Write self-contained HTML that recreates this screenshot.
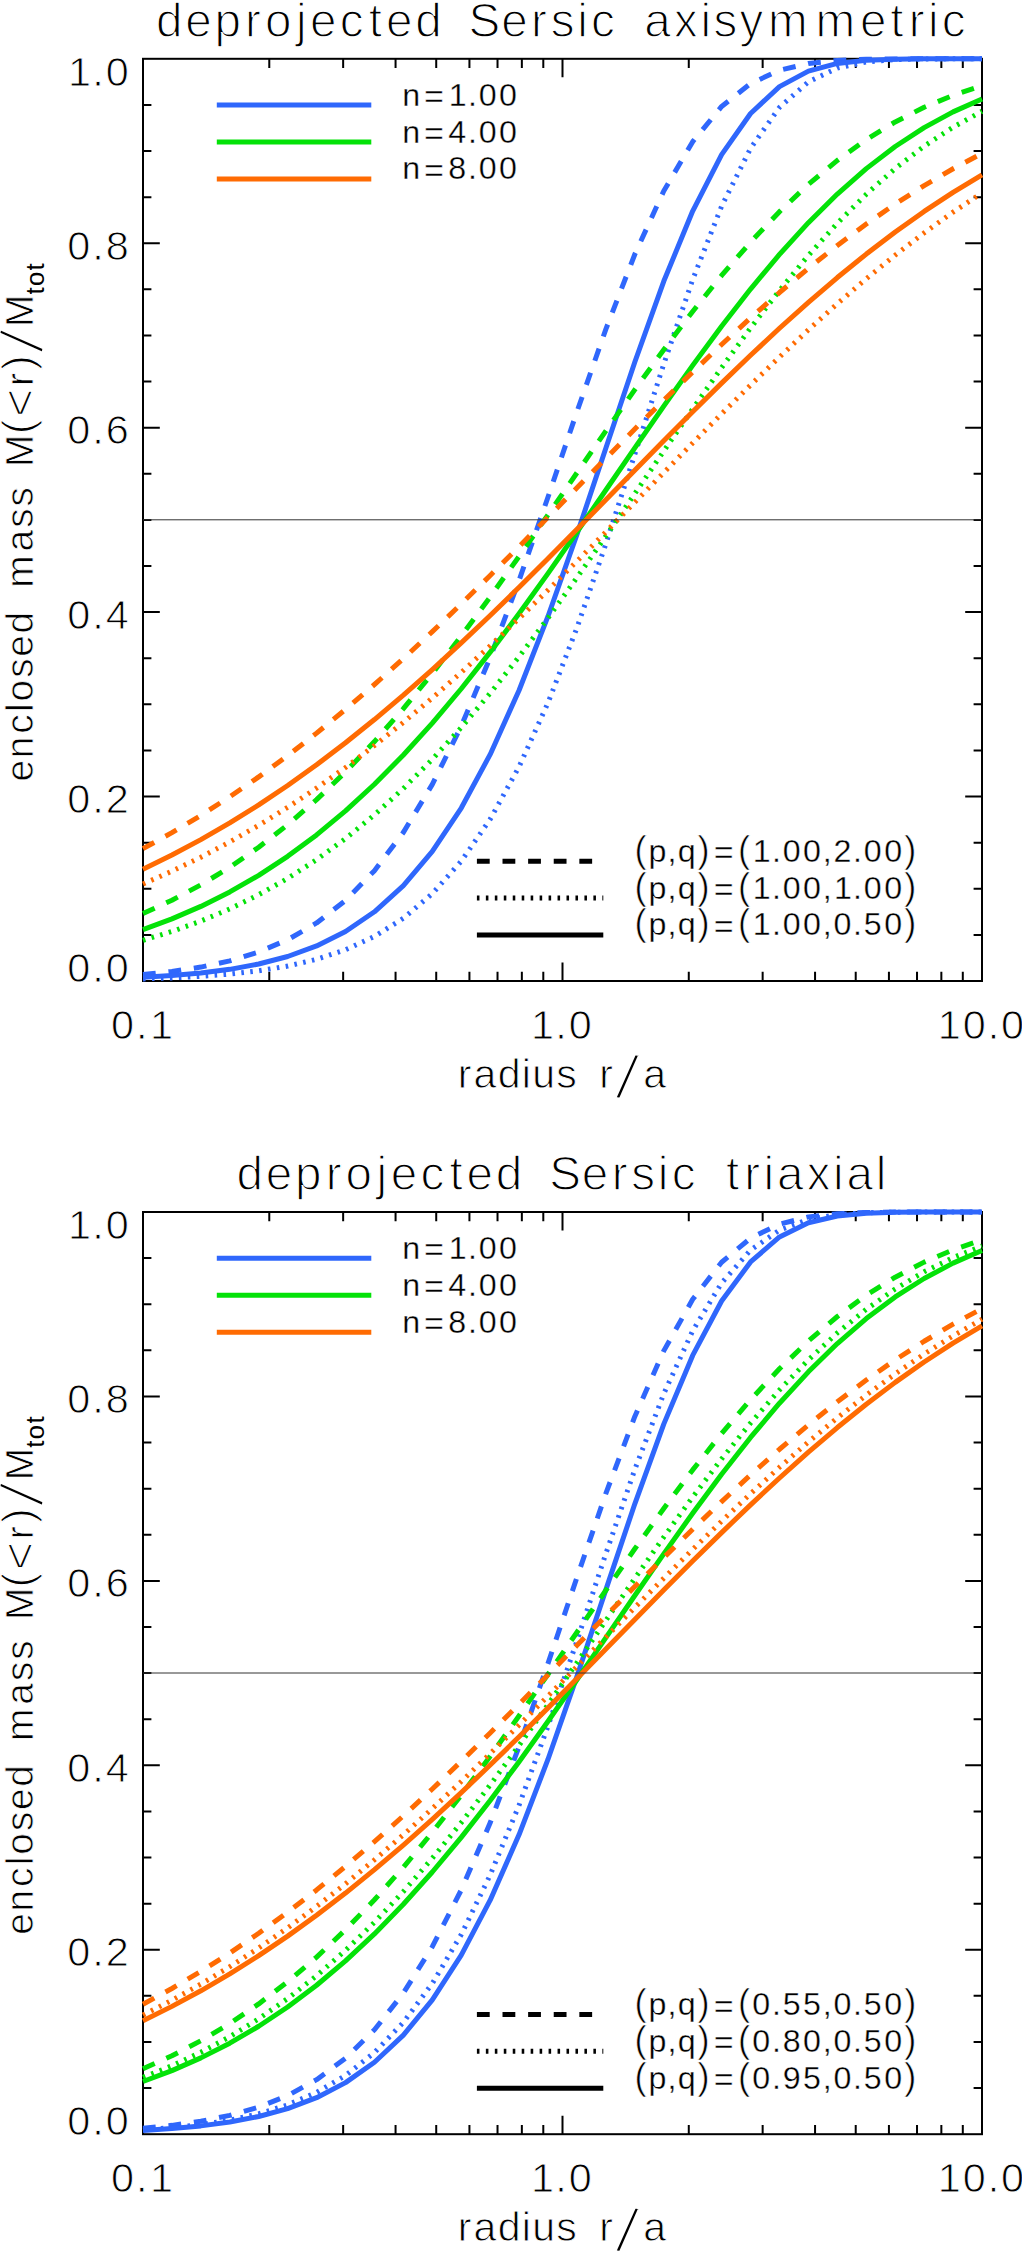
<!DOCTYPE html>
<html lang="en">
<head>
<meta charset="utf-8">
<title>deprojected Sersic enclosed mass</title>
<style>
html,body{margin:0;padding:0;background:#fff;}
body{width:1022px;height:2251px;overflow:hidden;}
svg{display:block;}
.ax{fill:none;stroke:#000;stroke-width:2;stroke-linecap:butt;stroke-linejoin:miter;}
.cv path,.so,.da,.do{fill:none;stroke-width:5.0;stroke-linejoin:round;stroke-linecap:butt;}
.da{stroke-dasharray:12.8 12.81;}
.do{stroke-dasharray:2.56 6.4;}
.lk{stroke:#000;stroke-width:5;}
.half{fill:none;stroke:#333;stroke-width:1;}
.txt text{font-family:"Liberation Sans",Arial,Helvetica,sans-serif;fill:#000;stroke:#fff;text-anchor:middle;}
</style>
</head>
<body>
<svg width="1022" height="2251" viewBox="0 0 1022 2251">
<rect width="1022" height="2251" fill="#fff"/>
<g class="panel">
<path class="ax" d="M269.28,981.0v-9.2M269.28,58.8v9.2M343.15,981.0v-9.2M343.15,58.8v9.2M395.56,981.0v-9.2M395.56,58.8v9.2M436.22,981.0v-9.2M436.22,58.8v9.2M469.43,981.0v-9.2M469.43,58.8v9.2M497.52,981.0v-9.2M497.52,58.8v9.2M521.85,981.0v-9.2M521.85,58.8v9.2M543.30,981.0v-9.2M543.30,58.8v9.2M562.50,981.0v-18.4M562.50,58.8v18.4M688.78,981.0v-9.2M688.78,58.8v9.2M762.65,981.0v-9.2M762.65,58.8v9.2M815.06,981.0v-9.2M815.06,58.8v9.2M855.72,981.0v-9.2M855.72,58.8v9.2M888.93,981.0v-9.2M888.93,58.8v9.2M917.02,981.0v-9.2M917.02,58.8v9.2M941.35,981.0v-9.2M941.35,58.8v9.2M962.80,981.0v-9.2M962.80,58.8v9.2M143.0,934.89h8.4M982.0,934.89h-8.4M143.0,888.78h8.4M982.0,888.78h-8.4M143.0,842.67h8.4M982.0,842.67h-8.4M143.0,796.56h16.8M982.0,796.56h-16.8M143.0,750.45h8.4M982.0,750.45h-8.4M143.0,704.34h8.4M982.0,704.34h-8.4M143.0,658.23h8.4M982.0,658.23h-8.4M143.0,612.12h16.8M982.0,612.12h-16.8M143.0,566.01h8.4M982.0,566.01h-8.4M143.0,519.90h8.4M982.0,519.90h-8.4M143.0,473.79h8.4M982.0,473.79h-8.4M143.0,427.68h16.8M982.0,427.68h-16.8M143.0,381.57h8.4M982.0,381.57h-8.4M143.0,335.46h8.4M982.0,335.46h-8.4M143.0,289.35h8.4M982.0,289.35h-8.4M143.0,243.24h16.8M982.0,243.24h-16.8M143.0,197.13h8.4M982.0,197.13h-8.4M143.0,151.02h8.4M982.0,151.02h-8.4M143.0,104.91h8.4M982.0,104.91h-8.4"/>
<rect class="ax" x="143.0" y="58.8" width="839.0" height="922.2"/>
<g class="cv">
<path class="da" stroke="#2f67fc" d="M143.00,974.54 L171.93,971.49 L200.86,967.09 L229.79,960.83 L258.72,952.00 L287.66,939.74 L316.59,922.96 L345.52,900.39 L374.45,870.66 L403.38,832.38 L432.31,784.40 L461.24,726.07 L490.17,657.59 L519.10,580.33 L548.03,497.01 L576.97,411.66 L605.90,329.10 L634.83,254.23 L663.76,191.01 L692.69,141.70 L721.62,106.46 L750.55,83.59 L779.48,70.29 L808.41,63.45 L837.34,60.41 L866.28,59.26 L895.21,58.91 L924.14,58.82 L953.07,58.80 L982.00,58.80"/>
<path class="do" stroke="#2f67fc" d="M143.00,978.92 L171.93,977.88 L200.86,976.35 L229.79,974.10 L258.72,970.82 L287.66,966.09 L316.59,959.33 L345.52,949.79 L374.45,936.50 L403.38,918.26 L432.31,893.67 L461.24,861.17 L490.17,819.26 L519.10,766.66 L548.03,702.72 L576.97,627.83 L605.90,543.83 L634.83,454.24 L663.76,364.13 L692.69,279.54 L721.62,206.23 L750.55,148.35 L779.48,107.38 L808.41,81.85 L837.34,68.12 L866.28,61.93 L895.21,59.64 L924.14,58.97 L953.07,58.83 L982.00,58.80"/>
<path class="so" stroke="#2f67fc" d="M143.00,977.37 L171.93,975.61 L200.86,973.05 L229.79,969.34 L258.72,964.02 L287.66,956.50 L316.59,945.97 L345.52,931.46 L374.45,911.78 L403.38,885.57 L432.31,851.44 L461.24,808.05 L490.17,754.42 L519.10,690.24 L548.03,616.21 L576.97,534.34 L605.90,448.05 L634.83,361.97 L663.76,281.32 L692.69,211.03 L721.62,154.62 L750.55,113.47 L779.48,86.58 L808.41,71.11 L837.34,63.45 L866.28,60.25 L895.21,59.16 L924.14,58.87 L953.07,58.81 L982.00,58.80"/>
<path class="da" stroke="#04e208" d="M143.00,913.55 L171.93,900.23 L200.86,884.85 L229.79,867.24 L258.72,847.25 L287.66,824.75 L316.59,799.65 L345.52,771.92 L374.45,741.57 L403.38,708.69 L432.31,673.45 L461.24,636.08 L490.17,596.91 L519.10,556.32 L548.03,514.77 L576.97,472.78 L605.90,430.90 L634.83,389.68 L663.76,349.69 L692.69,311.46 L721.62,275.46 L750.55,242.09 L779.48,211.67 L808.41,184.39 L837.34,160.36 L866.28,139.58 L895.21,121.94 L924.14,107.26 L953.07,95.30 L982.00,85.74"/>
<path class="do" stroke="#04e208" d="M143.00,940.33 L171.93,931.49 L200.86,921.07 L229.79,908.88 L258.72,894.71 L287.66,878.38 L316.59,859.72 L345.52,838.58 L374.45,814.84 L403.38,788.42 L432.31,759.30 L461.24,727.53 L490.17,693.24 L519.10,656.62 L548.03,617.95 L576.97,577.59 L605.90,535.97 L634.83,493.61 L663.76,451.05 L692.69,408.88 L721.62,367.67 L750.55,328.01 L779.48,290.42 L808.41,255.35 L837.34,223.18 L866.28,194.18 L895.21,168.51 L924.14,146.20 L953.07,127.18 L982.00,111.31"/>
<path class="so" stroke="#04e208" d="M143.00,929.57 L171.93,918.88 L200.86,906.39 L229.79,891.93 L258.72,875.31 L287.66,856.35 L316.59,834.93 L345.52,810.92 L374.45,784.28 L403.38,754.99 L432.31,723.11 L461.24,688.76 L490.17,652.16 L519.10,613.58 L548.03,573.40 L576.97,532.05 L605.90,490.01 L634.83,447.84 L663.76,406.10 L692.69,365.37 L721.62,326.18 L750.55,289.06 L779.48,254.44 L808.41,222.67 L837.34,194.02 L866.28,168.62 L895.21,146.52 L924.14,127.66 L953.07,111.86 L982.00,98.91"/>
<path class="da" stroke="#ff6b02" d="M143.00,848.62 L171.93,832.67 L200.86,815.40 L229.79,796.81 L258.72,776.89 L287.66,755.66 L316.59,733.15 L345.52,709.41 L374.45,684.52 L403.38,658.56 L432.31,631.64 L461.24,603.90 L490.17,575.47 L519.10,546.52 L548.03,517.21 L576.97,487.74 L605.90,458.28 L634.83,429.04 L663.76,400.20 L692.69,371.96 L721.62,344.48 L750.55,317.95 L779.48,292.51 L808.41,268.29 L837.34,245.42 L866.28,223.97 L895.21,204.01 L924.14,185.60 L953.07,168.74 L982.00,153.44"/>
<path class="do" stroke="#ff6b02" d="M143.00,883.96 L171.93,871.19 L200.86,857.18 L229.79,841.90 L258.72,825.31 L287.66,807.38 L316.59,788.10 L345.52,767.49 L374.45,745.56 L403.38,722.36 L432.31,697.95 L461.24,672.40 L490.17,645.82 L519.10,618.34 L548.03,590.08 L576.97,561.20 L605.90,531.87 L634.83,502.28 L663.76,472.60 L692.69,443.04 L721.62,413.80 L750.55,385.06 L779.48,357.02 L808.41,329.85 L837.34,303.71 L866.28,278.75 L895.21,255.11 L924.14,232.87 L953.07,212.12 L982.00,192.92"/>
<path class="so" stroke="#ff6b02" d="M143.00,869.21 L171.93,855.08 L200.86,839.66 L229.79,822.95 L258.72,804.90 L287.66,785.52 L316.59,764.81 L345.52,742.81 L374.45,719.54 L403.38,695.09 L432.31,669.52 L461.24,642.95 L490.17,615.49 L519.10,587.27 L548.03,558.46 L576.97,529.22 L605.90,499.74 L634.83,470.19 L663.76,440.78 L692.69,411.70 L721.62,383.13 L750.55,355.26 L779.48,328.28 L808.41,302.32 L837.34,277.55 L866.28,254.08 L895.21,232.01 L924.14,211.42 L953.07,192.37 L982.00,174.87"/>
</g>
<path class="half" d="M143.0,519.80H982.0"/>
<path class="so" stroke="#2f67fc" d="M216.8,105.0H371.3"/>
<path class="so" stroke="#04e208" d="M216.8,142.0H371.3"/>
<path class="so" stroke="#ff6b02" d="M216.8,179.0H371.3"/>
<path class="da lk" d="M476.9,861.2H603.3"/>
<path class="do lk" d="M476.9,898.0H603.3"/>
<path class="so lk" d="M476.9,935.0H603.3"/>
</g>
<g class="panel">
<path class="ax" d="M269.28,2134.2v-9.2M269.28,1212.0v9.2M343.15,2134.2v-9.2M343.15,1212.0v9.2M395.56,2134.2v-9.2M395.56,1212.0v9.2M436.22,2134.2v-9.2M436.22,1212.0v9.2M469.43,2134.2v-9.2M469.43,1212.0v9.2M497.52,2134.2v-9.2M497.52,1212.0v9.2M521.85,2134.2v-9.2M521.85,1212.0v9.2M543.30,2134.2v-9.2M543.30,1212.0v9.2M562.50,2134.2v-18.4M562.50,1212.0v18.4M688.78,2134.2v-9.2M688.78,1212.0v9.2M762.65,2134.2v-9.2M762.65,1212.0v9.2M815.06,2134.2v-9.2M815.06,1212.0v9.2M855.72,2134.2v-9.2M855.72,1212.0v9.2M888.93,2134.2v-9.2M888.93,1212.0v9.2M917.02,2134.2v-9.2M917.02,1212.0v9.2M941.35,2134.2v-9.2M941.35,1212.0v9.2M962.80,2134.2v-9.2M962.80,1212.0v9.2M143.0,2088.09h8.4M982.0,2088.09h-8.4M143.0,2041.98h8.4M982.0,2041.98h-8.4M143.0,1995.87h8.4M982.0,1995.87h-8.4M143.0,1949.76h16.8M982.0,1949.76h-16.8M143.0,1903.65h8.4M982.0,1903.65h-8.4M143.0,1857.54h8.4M982.0,1857.54h-8.4M143.0,1811.43h8.4M982.0,1811.43h-8.4M143.0,1765.32h16.8M982.0,1765.32h-16.8M143.0,1719.21h8.4M982.0,1719.21h-8.4M143.0,1673.10h8.4M982.0,1673.10h-8.4M143.0,1626.99h8.4M982.0,1626.99h-8.4M143.0,1580.88h16.8M982.0,1580.88h-16.8M143.0,1534.77h8.4M982.0,1534.77h-8.4M143.0,1488.66h8.4M982.0,1488.66h-8.4M143.0,1442.55h8.4M982.0,1442.55h-8.4M143.0,1396.44h16.8M982.0,1396.44h-16.8M143.0,1350.33h8.4M982.0,1350.33h-8.4M143.0,1304.22h8.4M982.0,1304.22h-8.4M143.0,1258.11h8.4M982.0,1258.11h-8.4"/>
<rect class="ax" x="143.0" y="1212.0" width="839.0" height="922.1999999999998"/>
<g class="cv">
<path class="da" stroke="#2f67fc" d="M143.00,2128.20 L171.93,2125.36 L200.86,2121.25 L229.79,2115.38 L258.72,2107.09 L287.66,2095.53 L316.59,2079.65 L345.52,2058.21 L374.45,2029.81 L403.38,1993.06 L432.31,1946.71 L461.24,1889.97 L490.17,1822.84 L519.10,1746.45 L548.03,1663.33 L576.97,1577.34 L605.90,1493.34 L634.83,1416.41 L663.76,1350.85 L692.69,1299.32 L721.62,1262.26 L750.55,1238.15 L779.48,1224.10 L808.41,1216.89 L837.34,1213.69 L866.28,1212.48 L895.21,1212.11 L924.14,1212.02 L953.07,1212.00 L982.00,1212.00"/>
<path class="do" stroke="#2f67fc" d="M143.00,2129.80 L171.93,2127.68 L200.86,2124.59 L229.79,2120.15 L258.72,2113.81 L287.66,2104.88 L316.59,2092.46 L345.52,2075.45 L374.45,2052.56 L403.38,2022.36 L432.31,1983.43 L461.24,1934.57 L490.17,1875.07 L519.10,1805.11 L548.03,1726.08 L576.97,1640.82 L605.90,1553.55 L634.83,1469.44 L663.76,1393.76 L692.69,1330.81 L721.62,1282.95 L750.55,1250.12 L779.48,1230.11 L808.41,1219.45 L837.34,1214.59 L866.28,1212.74 L895.21,1212.17 L924.14,1212.03 L953.07,1212.00 L982.00,1212.00"/>
<path class="so" stroke="#2f67fc" d="M143.00,2130.41 L171.93,2128.57 L200.86,2125.89 L229.79,2122.02 L258.72,2116.48 L287.66,2108.64 L316.59,2097.70 L345.52,2082.63 L374.45,2062.22 L403.38,2035.11 L432.31,1999.87 L461.24,1955.19 L490.17,1900.16 L519.10,1834.55 L548.03,1759.22 L576.97,1676.37 L605.90,1589.63 L634.83,1503.78 L663.76,1424.10 L692.69,1355.43 L721.62,1301.04 L750.55,1261.97 L779.48,1236.91 L808.41,1222.80 L837.34,1215.97 L866.28,1213.20 L895.21,1212.29 L924.14,1212.05 L953.07,1212.01 L982.00,1212.00"/>
<path class="da" stroke="#04e208" d="M143.00,2068.79 L171.93,2055.78 L200.86,2040.75 L229.79,2023.50 L258.72,2003.89 L287.66,1981.78 L316.59,1957.08 L345.52,1929.73 L374.45,1899.76 L403.38,1867.23 L432.31,1832.30 L461.24,1795.19 L490.17,1756.22 L519.10,1715.75 L548.03,1674.26 L576.97,1632.23 L605.90,1590.22 L634.83,1548.80 L663.76,1508.52 L692.69,1469.93 L721.62,1433.52 L750.55,1399.70 L779.48,1368.79 L808.41,1341.01 L837.34,1316.50 L866.28,1295.25 L895.21,1277.18 L924.14,1262.11 L953.07,1249.79 L982.00,1239.94"/>
<path class="do" stroke="#04e208" d="M143.00,2077.39 L171.93,2065.77 L200.86,2052.26 L229.79,2036.67 L258.72,2018.82 L287.66,1998.55 L316.59,1975.75 L345.52,1950.33 L374.45,1922.25 L403.38,1891.53 L432.31,1858.28 L461.24,1822.66 L490.17,1784.92 L519.10,1745.39 L548.03,1704.48 L576.97,1662.65 L605.90,1620.43 L634.83,1578.37 L663.76,1537.06 L692.69,1497.06 L721.62,1458.90 L750.55,1423.05 L779.48,1389.92 L808.41,1359.81 L837.34,1332.90 L866.28,1309.30 L895.21,1288.97 L924.14,1271.81 L953.07,1257.60 L982.00,1246.09"/>
<path class="so" stroke="#04e208" d="M143.00,2081.52 L171.93,2070.61 L200.86,2057.89 L229.79,2043.16 L258.72,2026.24 L287.66,2006.97 L316.59,1985.22 L345.52,1960.87 L374.45,1933.88 L403.38,1904.24 L432.31,1872.02 L461.24,1837.35 L490.17,1800.46 L519.10,1761.64 L548.03,1721.26 L576.97,1679.77 L605.90,1637.66 L634.83,1595.50 L663.76,1553.84 L692.69,1513.25 L721.62,1474.30 L750.55,1437.47 L779.48,1403.19 L808.41,1371.82 L837.34,1343.58 L866.28,1318.62 L895.21,1296.96 L924.14,1278.51 L953.07,1263.12 L982.00,1250.53"/>
<path class="da" stroke="#ff6b02" d="M143.00,2004.23 L171.93,1988.48 L200.86,1971.42 L229.79,1953.02 L258.72,1933.30 L287.66,1912.26 L316.59,1889.93 L345.52,1866.36 L374.45,1841.62 L403.38,1815.80 L432.31,1789.00 L461.24,1761.35 L490.17,1733.00 L519.10,1704.09 L548.03,1674.80 L576.97,1645.32 L605.90,1615.82 L634.83,1586.51 L663.76,1557.58 L692.69,1529.21 L721.62,1501.59 L750.55,1474.89 L779.48,1449.26 L808.41,1424.84 L837.34,1401.74 L866.28,1380.07 L895.21,1359.88 L924.14,1341.24 L953.07,1324.15 L982.00,1308.62"/>
<path class="do" stroke="#ff6b02" d="M143.00,2015.07 L171.93,2000.25 L200.86,1984.14 L229.79,1966.71 L258.72,1947.94 L287.66,1927.85 L316.59,1906.43 L345.52,1883.74 L374.45,1859.81 L403.38,1834.74 L432.31,1808.61 L461.24,1781.53 L490.17,1753.63 L519.10,1725.06 L548.03,1695.98 L576.97,1666.57 L605.90,1637.02 L634.83,1607.50 L663.76,1578.23 L692.69,1549.39 L721.62,1521.16 L750.55,1493.74 L779.48,1467.28 L808.41,1441.94 L837.34,1417.85 L866.28,1395.12 L895.21,1373.83 L924.14,1354.06 L953.07,1335.85 L982.00,1319.20"/>
<path class="so" stroke="#ff6b02" d="M143.00,2020.67 L171.93,2006.37 L200.86,1990.79 L229.79,1973.90 L258.72,1955.68 L287.66,1936.12 L316.59,1915.24 L345.52,1893.07 L374.45,1869.64 L403.38,1845.03 L432.31,1819.32 L461.24,1792.62 L490.17,1765.04 L519.10,1736.74 L548.03,1707.86 L576.97,1678.57 L605.90,1649.06 L634.83,1619.51 L663.76,1590.12 L692.69,1561.09 L721.62,1532.60 L750.55,1504.83 L779.48,1477.97 L808.41,1452.16 L837.34,1427.55 L866.28,1404.25 L895.21,1382.37 L924.14,1361.98 L953.07,1343.13 L982.00,1325.84"/>
</g>
<path class="half" d="M143.0,1673.00H982.0"/>
<path class="so" stroke="#2f67fc" d="M216.8,1258.2H371.3"/>
<path class="so" stroke="#04e208" d="M216.8,1295.2H371.3"/>
<path class="so" stroke="#ff6b02" d="M216.8,1332.2H371.3"/>
<path class="da lk" d="M476.9,2014.4H603.3"/>
<path class="do lk" d="M476.9,2051.2H603.3"/>
<path class="so lk" d="M476.9,2088.2H603.3"/>
</g>
<g class="txt">
<text x="169.26 198.49 227.72 253 278.28 301.19 323.31 351.75 375.45 399.15 428.38 456.03 484.47 514.49 538.98 562.68 582.43 602.97 629.83 657.48 685.92 705.67 725.42 751.49 787.83 835.23 873.15 896.85 916.6 933.19 953.73" y="37 37 37 37 37 37 37 37 37 37 37 37 37 37 37 37 37 37 37 37 37 37 37 37 37 37 37 37 37 37 37" font-size="47.6" stroke-width="1.34">deprojected Sersic axisymmetric</text>
<text x="78.8 98 117.2" y="981.9 981.9 981.9" font-size="41.4" stroke-width="0.93">0.0</text>
<text x="78.8 98 117.2" y="812.96 812.96 812.96" font-size="41.4" stroke-width="0.93">0.2</text>
<text x="78.8 98 117.2" y="628.52 628.52 628.52" font-size="41.4" stroke-width="0.93">0.4</text>
<text x="78.8 98 117.2" y="444.08 444.08 444.08" font-size="41.4" stroke-width="0.93">0.6</text>
<text x="78.8 98 117.2" y="259.64 259.64 259.64" font-size="41.4" stroke-width="0.93">0.8</text>
<text x="79.44 98 117.2" y="86.2 86.2 86.2" font-size="41.4" stroke-width="0.93">1.0</text>
<text x="122.5 141.7 161.54" y="1038.8 1038.8 1038.8" font-size="41.4" stroke-width="0.93">0.1</text>
<text x="542.44 561 580.2" y="1038.8 1038.8 1038.8" font-size="41.4" stroke-width="0.93">1.0</text>
<text x="949.24 974.2 993.4 1012.6" y="1038.8 1038.8 1038.8 1038.8" font-size="41.4" stroke-width="0.93">10.0</text>
<text x="464.49 484.91 509.15 526.38 543.61 566.57 587.63 606.13 624.03 654.62" y="1087.7 1087.7 1087.7 1087.7 1087.7 1087.7 1087.7 1087.7 1097.47 1087.7" font-size="41" stroke-width="0.91">radius r<tspan font-size="63.45" stroke-width="2.39" rotate="8.7">/</tspan>a</text>
<g transform="translate(32.6,782.1) rotate(-90)"><text x="11.34 34.65 57.96 74.34 91.35 114.03 136.08 159.39 181.44 210.42 241.29 263.97 285.39 306.18 331.38 355.32 379.26 402.57 419.58 437.87 471.24 491.05 503.16 515.26" y="0 0 0 0 0 0 0 0 0 0 0 0 0 0 0 0 3.2 0 0 9.67 0 11 11 11" font-size="38.8" stroke-width="0.76">enclosed mass M<tspan font-size="44.32" stroke-width="1.13">(</tspan><tspan font-size="47.98" stroke-width="1.37">&lt;</tspan>r<tspan font-size="44.32" stroke-width="1.13">)</tspan><tspan font-size="62.73" stroke-width="2.34" rotate="8.7">/</tspan>M<tspan font-size="25.56" stroke-width="0">tot</tspan></text></g>
<text x="411.13 433.95 457.78 472.48 487.69 507.97" y="105.8 108.07 105.8 105.8 105.8 105.8" font-size="32.2" stroke-width="0.33">n<tspan font-size="34.13" stroke-width="0.45">=</tspan>1.00</text>
<text x="411.13 433.95 457.27 472.48 487.69 507.97" y="142.6 144.87 142.6 142.6 142.6 142.6" font-size="32.2" stroke-width="0.33">n<tspan font-size="34.13" stroke-width="0.45">=</tspan>4.00</text>
<text x="411.13 433.95 457.27 472.48 487.69 507.97" y="179.4 181.67 179.4 179.4 179.4 179.4" font-size="32.2" stroke-width="0.33">n<tspan font-size="34.13" stroke-width="0.45">=</tspan>8.00</text>
<text x="640.6 657.33 672.03 686.74 703.47 723.75 744.03 761.77 776.47 791.68 811.96 827.17 842.38 857.59 872.8 893.08 910.32" y="862.2 862.2 862.2 862.2 862.2 864.47 862.2 862.2 862.2 862.2 862.2 862.2 862.2 862.2 862.2 862.2 862.2" font-size="32.2" stroke-width="0.33"><tspan font-size="36.21" stroke-width="0.59">(</tspan>p,q<tspan font-size="36.21" stroke-width="0.59">)</tspan><tspan font-size="34.13" stroke-width="0.45">=</tspan><tspan font-size="36.21" stroke-width="0.59">(</tspan>1.00,2.00<tspan font-size="36.21" stroke-width="0.59">)</tspan></text>
<text x="640.6 657.33 672.03 686.74 703.47 723.75 744.03 761.77 776.47 791.68 811.96 827.17 842.89 857.59 872.8 893.08 910.32" y="898.8 898.8 898.8 898.8 898.8 901.07 898.8 898.8 898.8 898.8 898.8 898.8 898.8 898.8 898.8 898.8 898.8" font-size="32.2" stroke-width="0.33"><tspan font-size="36.21" stroke-width="0.59">(</tspan>p,q<tspan font-size="36.21" stroke-width="0.59">)</tspan><tspan font-size="34.13" stroke-width="0.45">=</tspan><tspan font-size="36.21" stroke-width="0.59">(</tspan>1.00,1.00<tspan font-size="36.21" stroke-width="0.59">)</tspan></text>
<text x="640.6 657.33 672.03 686.74 703.47 723.75 744.03 761.77 776.47 791.68 811.96 827.17 842.38 857.59 872.8 893.08 910.32" y="935.4 935.4 935.4 935.4 935.4 937.67 935.4 935.4 935.4 935.4 935.4 935.4 935.4 935.4 935.4 935.4 935.4" font-size="32.2" stroke-width="0.33"><tspan font-size="36.21" stroke-width="0.59">(</tspan>p,q<tspan font-size="36.21" stroke-width="0.59">)</tspan><tspan font-size="34.13" stroke-width="0.45">=</tspan><tspan font-size="36.21" stroke-width="0.59">(</tspan>1.00,0.50<tspan font-size="36.21" stroke-width="0.59">)</tspan></text>
<text x="249.84 279.07 308.3 333.58 358.86 381.77 403.89 432.33 456.03 479.73 508.96 536.61 565.05 595.07 619.56 643.26 663.01 683.55 710.41 732.53 752.28 768.87 790.2 818.64 838.39 859.72 881.05" y="1190.2 1190.2 1190.2 1190.2 1190.2 1190.2 1190.2 1190.2 1190.2 1190.2 1190.2 1190.2 1190.2 1190.2 1190.2 1190.2 1190.2 1190.2 1190.2 1190.2 1190.2 1190.2 1190.2 1190.2 1190.2 1190.2 1190.2" font-size="47.6" stroke-width="1.34">deprojected Sersic triaxial</text>
<text x="78.8 98 117.2" y="2135.1 2135.1 2135.1" font-size="41.4" stroke-width="0.93">0.0</text>
<text x="78.8 98 117.2" y="1966.16 1966.16 1966.16" font-size="41.4" stroke-width="0.93">0.2</text>
<text x="78.8 98 117.2" y="1781.72 1781.72 1781.72" font-size="41.4" stroke-width="0.93">0.4</text>
<text x="78.8 98 117.2" y="1597.28 1597.28 1597.28" font-size="41.4" stroke-width="0.93">0.6</text>
<text x="78.8 98 117.2" y="1412.84 1412.84 1412.84" font-size="41.4" stroke-width="0.93">0.8</text>
<text x="79.44 98 117.2" y="1239.4 1239.4 1239.4" font-size="41.4" stroke-width="0.93">1.0</text>
<text x="122.5 141.7 161.54" y="2192 2192 2192" font-size="41.4" stroke-width="0.93">0.1</text>
<text x="542.44 561 580.2" y="2192 2192 2192" font-size="41.4" stroke-width="0.93">1.0</text>
<text x="949.24 974.2 993.4 1012.6" y="2192 2192 2192 2192" font-size="41.4" stroke-width="0.93">10.0</text>
<text x="464.49 484.91 509.15 526.38 543.61 566.57 587.63 606.13 624.03 654.62" y="2240.9 2240.9 2240.9 2240.9 2240.9 2240.9 2240.9 2240.9 2250.67 2240.9" font-size="41" stroke-width="0.91">radius r<tspan font-size="63.45" stroke-width="2.39" rotate="8.7">/</tspan>a</text>
<g transform="translate(32.6,1935.3) rotate(-90)"><text x="11.34 34.65 57.96 74.34 91.35 114.03 136.08 159.39 181.44 210.42 241.29 263.97 285.39 306.18 331.38 355.32 379.26 402.57 419.58 437.87 471.24 491.05 503.16 515.26" y="0 0 0 0 0 0 0 0 0 0 0 0 0 0 0 0 3.2 0 0 9.67 0 11 11 11" font-size="38.8" stroke-width="0.76">enclosed mass M<tspan font-size="44.32" stroke-width="1.13">(</tspan><tspan font-size="47.98" stroke-width="1.37">&lt;</tspan>r<tspan font-size="44.32" stroke-width="1.13">)</tspan><tspan font-size="62.73" stroke-width="2.34" rotate="8.7">/</tspan>M<tspan font-size="25.56" stroke-width="0">tot</tspan></text></g>
<text x="411.13 433.95 457.78 472.48 487.69 507.97" y="1259 1261.27 1259 1259 1259 1259" font-size="32.2" stroke-width="0.33">n<tspan font-size="34.13" stroke-width="0.45">=</tspan>1.00</text>
<text x="411.13 433.95 457.27 472.48 487.69 507.97" y="1295.8 1298.07 1295.8 1295.8 1295.8 1295.8" font-size="32.2" stroke-width="0.33">n<tspan font-size="34.13" stroke-width="0.45">=</tspan>4.00</text>
<text x="411.13 433.95 457.27 472.48 487.69 507.97" y="1332.6 1334.87 1332.6 1332.6 1332.6 1332.6" font-size="32.2" stroke-width="0.33">n<tspan font-size="34.13" stroke-width="0.45">=</tspan>8.00</text>
<text x="640.6 657.33 672.03 686.74 703.47 723.75 744.03 761.26 776.47 791.68 811.96 827.17 842.38 857.59 872.8 893.08 910.32" y="2015.4 2015.4 2015.4 2015.4 2015.4 2017.67 2015.4 2015.4 2015.4 2015.4 2015.4 2015.4 2015.4 2015.4 2015.4 2015.4 2015.4" font-size="32.2" stroke-width="0.33"><tspan font-size="36.21" stroke-width="0.59">(</tspan>p,q<tspan font-size="36.21" stroke-width="0.59">)</tspan><tspan font-size="34.13" stroke-width="0.45">=</tspan><tspan font-size="36.21" stroke-width="0.59">(</tspan>0.55,0.50<tspan font-size="36.21" stroke-width="0.59">)</tspan></text>
<text x="640.6 657.33 672.03 686.74 703.47 723.75 744.03 761.26 776.47 791.68 811.96 827.17 842.38 857.59 872.8 893.08 910.32" y="2052 2052 2052 2052 2052 2054.27 2052 2052 2052 2052 2052 2052 2052 2052 2052 2052 2052" font-size="32.2" stroke-width="0.33"><tspan font-size="36.21" stroke-width="0.59">(</tspan>p,q<tspan font-size="36.21" stroke-width="0.59">)</tspan><tspan font-size="34.13" stroke-width="0.45">=</tspan><tspan font-size="36.21" stroke-width="0.59">(</tspan>0.80,0.50<tspan font-size="36.21" stroke-width="0.59">)</tspan></text>
<text x="640.6 657.33 672.03 686.74 703.47 723.75 744.03 761.26 776.47 791.68 811.96 827.17 842.38 857.59 872.8 893.08 910.32" y="2088.6 2088.6 2088.6 2088.6 2088.6 2090.87 2088.6 2088.6 2088.6 2088.6 2088.6 2088.6 2088.6 2088.6 2088.6 2088.6 2088.6" font-size="32.2" stroke-width="0.33"><tspan font-size="36.21" stroke-width="0.59">(</tspan>p,q<tspan font-size="36.21" stroke-width="0.59">)</tspan><tspan font-size="34.13" stroke-width="0.45">=</tspan><tspan font-size="36.21" stroke-width="0.59">(</tspan>0.95,0.50<tspan font-size="36.21" stroke-width="0.59">)</tspan></text>
</g>
</svg>
</body>
</html>
